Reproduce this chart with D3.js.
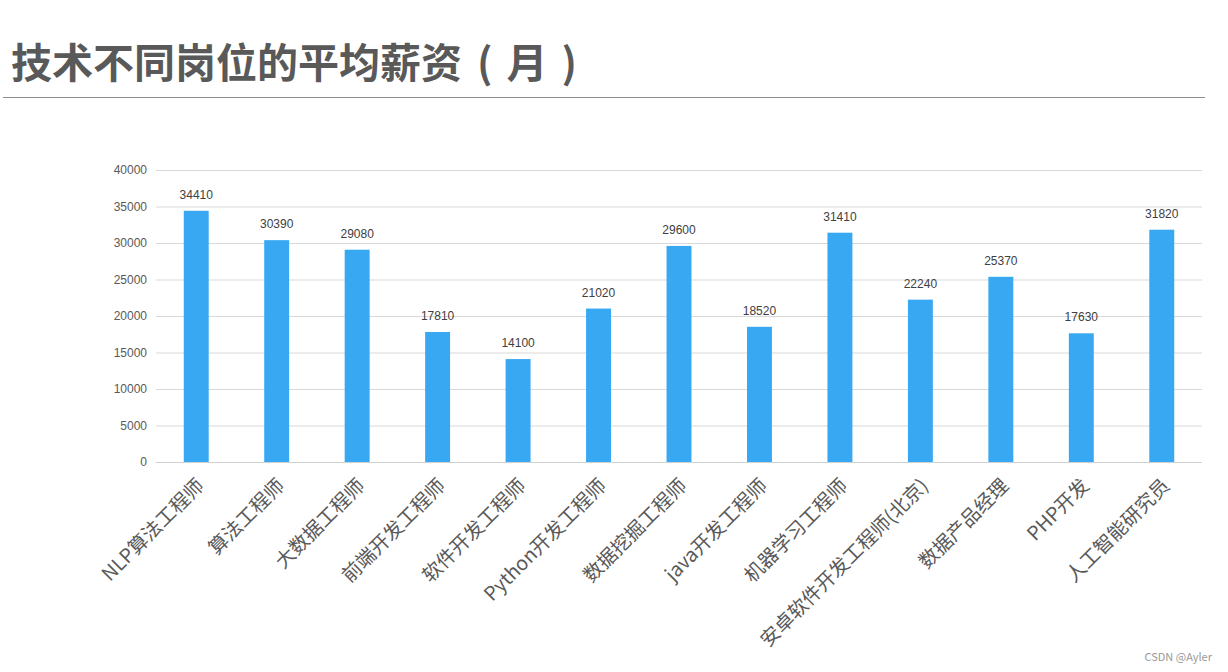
<!DOCTYPE html>
<html>
<head>
<meta charset="utf-8">
<script src="https://cdn.jsdelivr.net/npm/d3@7"></script>
<style>
  html, body { margin: 0; padding: 0; background: #fff; }
  svg { display: block; font-family: "Noto Sans CJK SC", "Noto Sans", sans-serif; }
</style>
</head>
<body>
<svg id="chart"></svg>
<script>
// job titles and average monthly salary
const jobs = ["NLP算法工程师", "算法工程师", "大数据工程师", "前端开发工程师", "软件开发工程师",
  "Python开发工程师", "数据挖掘工程师", "java开发工程师", "机器学习工程师",
  "安卓软件开发工程师(北京)", "数据产品经理", "PHP开发", "人工智能研究员"];
const salary = [34410, 30390, 29080, 17810, 14100, 21020, 29600, 18520, 31410, 22240, 25370, 17630, 31820];
const yTicks = [0, 5000, 10000, 15000, 20000, 25000, 30000, 35000, 40000];

const W = 1228, H = 672;
const margin = {top: 170, right: 26, bottom: 210, left: 156};
const width = W - margin.left - margin.right;
const height = H - margin.top - margin.bottom;

const svg = d3.select("#chart").attr("width", W).attr("height", H);

// title + rule
const title = svg.append("text")
  .attr("x", 11).attr("y", 78)
  .attr("font-size", 41).attr("font-weight", "bold")
  .attr("fill", "#595959")
  .text("技术不同岗位的平均薪资");
title.append("tspan").attr("dx", 15).text("(");
title.append("tspan").attr("dx", 14).text("月");
title.append("tspan").attr("dx", 14).text(")");

svg.append("line")
  .attr("x1", 3).attr("x2", 1205).attr("y1", 97.5).attr("y2", 97.5)
  .attr("stroke", "#8c8c8c").attr("stroke-width", 1);

const g = svg.append("g").attr("transform", `translate(${margin.left},${margin.top})`);

const x = d3.scaleBand().domain(jobs).range([0, width]).paddingInner(0.69).paddingOuter(0.345);
const y = d3.scaleLinear().domain([0, 40000]).range([height, 0]);

// gridlines
g.append("g")
  .call(d3.axisLeft(y).tickValues(yTicks).tickSize(-width).tickFormat(""))
  .call(a => a.select(".domain").remove())
  .call(a => a.selectAll(".tick line").attr("stroke", "#d9d9d9"));

// y labels
g.append("g")
  .call(d3.axisLeft(y).tickValues(yTicks).tickSize(0).tickPadding(9).tickFormat(d3.format("d")))
  .call(a => a.select(".domain").remove())
  .call(a => a.selectAll("text").attr("font-size", 12).attr("fill", "#595959")
    .attr("font-family", "Liberation Sans, Arial, sans-serif"));

// bars
g.selectAll(".bar").data(salary).join("rect")
  .attr("class", "bar")
  .attr("x", (d, i) => x(jobs[i]))
  .attr("y", d => y(d))
  .attr("width", x.bandwidth())
  .attr("height", d => height - y(d))
  .attr("fill", "#38a8f3");

// value labels
g.selectAll(".val").data(salary).join("text")
  .attr("class", "val")
  .attr("x", (d, i) => x(jobs[i]) + x.bandwidth() / 2)
  .attr("y", d => y(d) - 12)
  .attr("text-anchor", "middle")
  .attr("font-size", 12).attr("fill", "#404040")
  .attr("font-family", "Liberation Sans, Arial, sans-serif")
  .text(d => d);

// baseline
g.append("line")
  .attr("x1", 0).attr("x2", width).attr("y1", height + 0.5).attr("y2", height + 0.5)
  .attr("stroke", "#d0d0d0");

// x labels, rotated
g.selectAll(".xl").data(jobs).join("text")
  .attr("class", "xl")
  .attr("transform", d => `translate(${x(d) + x.bandwidth() / 2 + 9},${height + 25}) rotate(-45)`)
  .attr("text-anchor", "end")
  .attr("font-size", 19.5).attr("fill", "#595959")
  .text(d => d);

// watermark
svg.append("text")
  .attr("x", 1212).attr("y", 661)
  .attr("text-anchor", "end")
  .attr("font-size", 11).attr("fill", "#999")
  .text("CSDN @Ayler");
</script>
</body>
</html>
